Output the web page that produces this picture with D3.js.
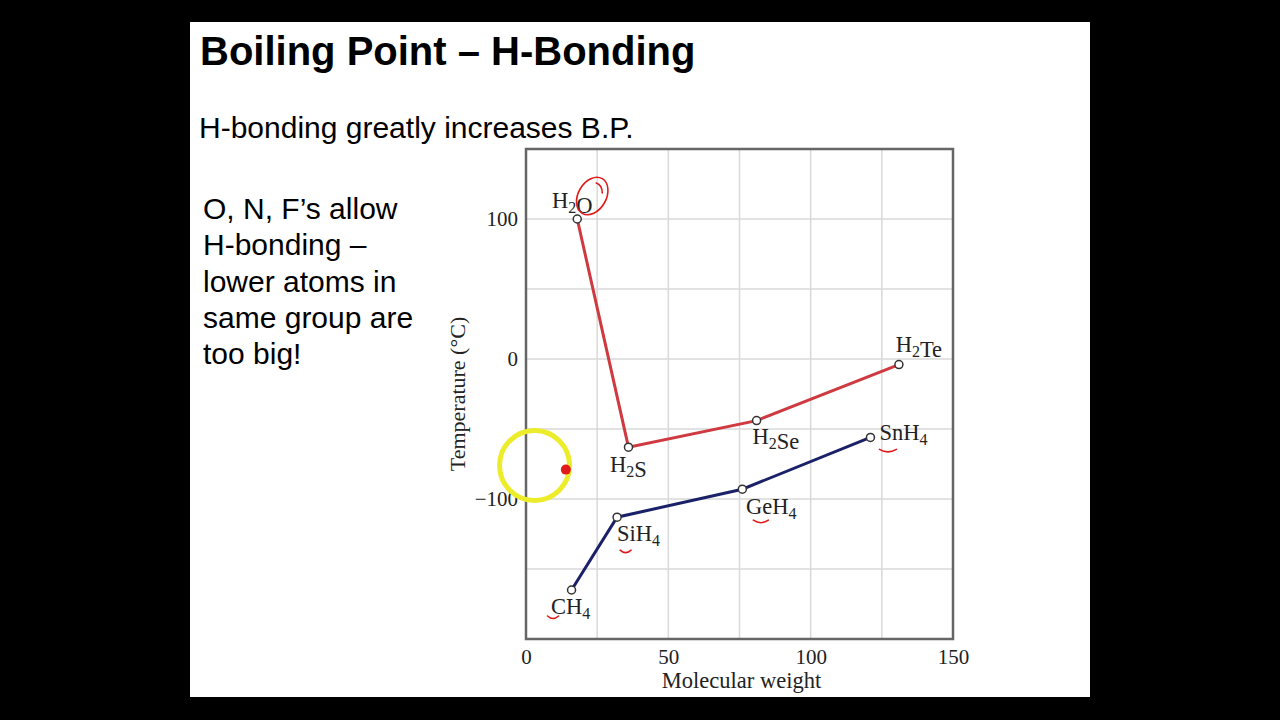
<!DOCTYPE html>
<html lang="en">
  <head>
    <meta charset="UTF-8" />
    <title>Boiling Point – H-Bonding</title>
    <script src="https://cdn.jsdelivr.net/npm/d3@7"></script>
    <style>
      html, body { margin: 0; padding: 0; background: #000; }
      svg { display: block; }
    </style>
  </head>
  <body>
    <div id="chart"></div>
    <script>
      // group 16 hydrides (red) and group 14 hydrides (navy)
      const group16Names = ['H2O', 'H2S', 'H2Se', 'H2Te']
      const group16Weight = [18, 36, 81, 131]
      const group16BP = [100, -63, -44, -4]

      const group14Names = ['CH4', 'SiH4', 'GeH4', 'SnH4']
      const group14Weight = [16, 32, 76, 121]
      const group14BP = [-165, -113, -93, -56]

      const xTicks = [0, 50, 100, 150]
      const yTicks = [-100, 0, 100]
      const xGrid = [25, 50, 75, 100, 125]
      const yGrid = [-150, -100, -50, 0, 50, 100]

      const bullets = ['O, N, F\u2019s allow', 'H-bonding \u2013', 'lower atoms in', 'same group are', 'too big!']

      // label placement next to each point: [dx, dy, anchor]
      const labelPos = {
        H2O: [-5, -11, 'middle'],
        H2S: [0, 25, 'middle'],
        H2Se: [-4, 23, 'start'],
        H2Te: [20, -13, 'middle'],
        CH4: [-1, 24, 'middle'],
        SiH4: [0, 24, 'start'],
        GeH4: [29, 25, 'middle'],
        SnH4: [9, 3, 'start']
      }

      const W = 1280, H = 720
      const serif = '"Liberation Serif", "DejaVu Serif", serif'
      const sans = '"Liberation Sans", Arial, sans-serif'

      const svg = d3.select('#chart').append('svg')
        .attr('width', W).attr('height', H)

      svg.append('rect').attr('width', W).attr('height', H).attr('fill', '#000')
      svg.append('rect').attr('x', 190).attr('y', 22).attr('width', 900).attr('height', 675).attr('fill', '#fff')

      // slide text
      svg.append('text')
        .attr('x', 200).attr('y', 65)
        .attr('font-family', sans).attr('font-weight', 'bold').attr('font-size', 40)
        .text('Boiling Point \u2013 H-Bonding')

      svg.append('text')
        .attr('x', 199).attr('y', 138)
        .attr('font-family', sans).attr('font-size', 30)
        .text('H-bonding greatly increases B.P.')

      svg.append('g').selectAll('text').data(bullets).join('text')
        .attr('x', 203).attr('y', (d, i) => 219 + i * 36.3)
        .attr('font-family', sans).attr('font-size', 30)
        .text(d => d)

      // chart
      const x = d3.scaleLinear().domain([0, 150]).range([526, 953])
      const y = d3.scaleLinear().domain([-200, 150]).range([639, 149])

      const chart = svg.append('g')

      chart.append('g').selectAll('line').data(xGrid).join('line')
        .attr('x1', d => x(d)).attr('x2', d => x(d))
        .attr('y1', y(150)).attr('y2', y(-200))
        .attr('stroke', '#d9d9d9').attr('stroke-width', 1.5)

      chart.append('g').selectAll('line').data(yGrid).join('line')
        .attr('x1', x(0)).attr('x2', x(150))
        .attr('y1', d => y(d)).attr('y2', d => y(d))
        .attr('stroke', '#d9d9d9').attr('stroke-width', 1.5)

      chart.append('rect')
        .attr('x', x(0)).attr('y', y(150))
        .attr('width', x(150) - x(0)).attr('height', y(-200) - y(150))
        .attr('fill', 'none').attr('stroke', '#666').attr('stroke-width', 2.5)

      const xAxis = chart.append('g')
        .attr('transform', `translate(0,${y(-200) + 4})`)
        .call(d3.axisBottom(x).tickValues(xTicks).tickSize(0).tickPadding(6))
      const yAxis = chart.append('g')
        .attr('transform', `translate(${x(0) - 6},0)`)
        .call(d3.axisLeft(y).tickValues(yTicks).tickSize(0).tickPadding(2))

      for (const ax of [xAxis, yAxis]) {
        ax.select('.domain').remove()
        ax.selectAll('text')
          .attr('font-family', serif).attr('font-size', 21).attr('fill', '#222')
      }

      chart.append('text')
        .attr('x', (x(0) + x(150)) / 2 + 2).attr('y', 688)
        .attr('text-anchor', 'middle')
        .attr('font-family', serif).attr('font-size', 22.5).attr('fill', '#222')
        .text('Molecular weight')

      chart.append('text')
        .attr('transform', `translate(465,${(y(150) + y(-200)) / 2}) rotate(-90)`)
        .attr('text-anchor', 'middle')
        .attr('font-family', serif).attr('font-size', 22).attr('fill', '#222')
        .text('Temperature (\u00B0C)')

      const series = [
        { color: '#cf3a40', pts: group16Names.map((n, i) => ({ n, w: group16Weight[i], t: group16BP[i] })) },
        { color: '#1b2168', pts: group14Names.map((n, i) => ({ n, w: group14Weight[i], t: group14BP[i] })) }
      ]

      const line = d3.line().x(d => x(d.w)).y(d => y(d.t))

      series.forEach(s => {
        chart.append('path')
          .attr('d', line(s.pts))
          .attr('fill', 'none').attr('stroke', s.color).attr('stroke-width', 3)

        chart.append('g').selectAll('circle').data(s.pts).join('circle')
          .attr('cx', d => x(d.w)).attr('cy', d => y(d.t)).attr('r', 4)
          .attr('fill', '#fff').attr('stroke', '#333').attr('stroke-width', 1.5)

        const labels = chart.append('g').selectAll('text').data(s.pts).join('text')
          .attr('x', d => x(d.w) + labelPos[d.n][0])
          .attr('y', d => y(d.t) + labelPos[d.n][1])
          .attr('text-anchor', d => labelPos[d.n][2])
          .attr('font-family', serif).attr('font-size', 22.5).attr('fill', '#222')

        labels.each(function (d) {
          const el = d3.select(this)
          d.n.match(/[A-Za-z]+|\d+/g).forEach(part => {
            if (/\d/.test(part)) {
              el.append('tspan').attr('font-size', 16).attr('dy', 5).text(part)
              el.append('tspan').attr('dy', -5).text('')
            } else {
              el.append('tspan').text(part)
            }
          })
        })
      })

      // hand-drawn annotations from the lecture
      const ink = chart.append('g').attr('fill', 'none').attr('stroke', '#e01a1a')
        .attr('stroke-width', 1.6).attr('stroke-linecap', 'round')
      const h2o = series[0].pts[0]
      const ox = x(h2o.w) + 15, oy = y(h2o.t) - 23
      ink.append('ellipse')
        .attr('cx', ox).attr('cy', oy)
        .attr('rx', 20).attr('ry', 14)
        .attr('transform', `rotate(-60,${ox},${oy})`)
      ink.append('path')
        .attr('d', `M${ox + 4},${oy - 13} q6,2 6,10`)

      const underline = [
        [series[1].pts[0], -24, 28, 11],
        [series[1].pts[1], 3, 35, 11],
        [series[1].pts[2], 11, 33, 15],
        [series[1].pts[3], 9, 14, 17]
      ]
      underline.forEach(([d, dx, dy, len]) => {
        ink.append('path')
          .attr('d', `M${x(d.w) + dx},${y(d.t) + dy - 2} q${len / 2},5 ${len},0`)
      })

      // presenter pointer highlight
      svg.append('circle')
        .attr('cx', x(3)).attr('cy', y(-76)).attr('r', 35)
        .attr('fill', 'none')
        .attr('stroke', '#ecec2a').attr('stroke-width', 5)
      svg.append('circle')
        .attr('cx', x(14)).attr('cy', y(-79)).attr('r', 5)
        .attr('fill', '#e01a1a')
    </script>
  </body>
</html>
